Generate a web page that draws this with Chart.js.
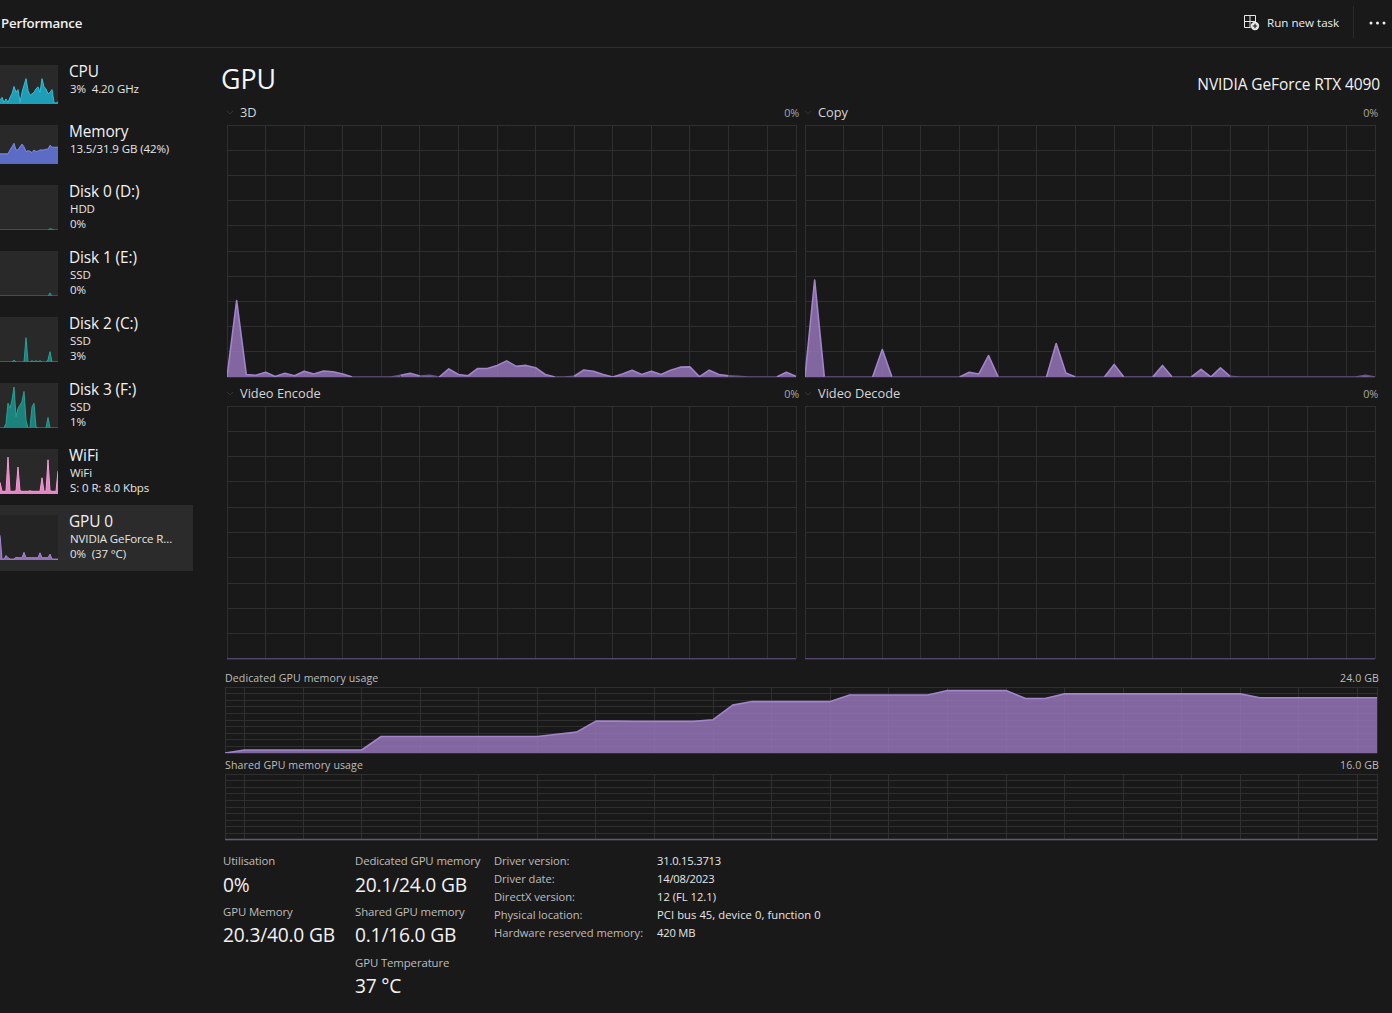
<!DOCTYPE html>
<html><head><meta charset="utf-8">
<script src="https://cdn.jsdelivr.net/npm/chart.js@4"></script>
<style>
html,body{margin:0;padding:0;background:#191919;width:1392px;height:1013px;overflow:hidden}
body{position:relative;font-family:"Open Sans","Noto Sans",sans-serif;color:#fff}
.t{position:absolute;white-space:nowrap;transform:translateY(-50%);line-height:1.2}
.r{transform:translate(-100%,-50%)}
.h{font-size:15.4px;color:#f2f2f2;letter-spacing:-.1px}
.s{font-size:11.5px;color:#e6e6e6;letter-spacing:-.1px}
.l{font-size:11.4px;color:#bdbdbd;letter-spacing:-.12px}
.v{font-size:19.2px;color:#f2f2f2;letter-spacing:-.2px}
.d{font-size:11.2px;color:#bdbdbd;letter-spacing:-.04px}
.e{font-size:11.2px;color:#e6e6e6;letter-spacing:-.2px}
.g{font-size:12.8px;color:#d6d6d6}
.p{font-size:10.8px;color:#a8a8a8;letter-spacing:-.2px}
.m{font-size:10.6px;color:#bdbdbd;letter-spacing:.1px}
canvas{position:absolute;display:block}
.box{position:absolute}
</style></head><body>
<div class="box" style="left:0;top:47px;width:1392px;height:1px;background:#2e2e2e"></div>
<div class="box" style="left:1353px;top:6px;width:1px;height:32px;background:#2a2a2a"></div>
<div class="box" style="left:0;top:505px;width:193px;height:66px;background:#2b2b2b"></div>

<div class="t" style="left:1px;top:23.5px;font-size:13.3px;font-weight:600;color:#f0f0f0;letter-spacing:-.2px">Performance</div>
<svg class="box" style="left:1243px;top:15px" width="17" height="16" viewBox="0 0 17 16" fill="none" stroke="#e8e8e8" stroke-width="1">
<path d="M1.5 .5h11v6.5M1.5 .5v12h6M1.5 6.5h11M7 .5v12"/><circle cx="12" cy="11" r="4.2" fill="#e8e8e8" stroke="none"/><path d="M12 8.8v4.4M9.8 11h4.4" stroke="#191919" stroke-width="1.1"/></svg>
<div class="t" style="left:1267px;top:23px;font-size:11.6px;font-weight:500;color:#ececec">Run new task</div>
<svg class="box" style="left:1369px;top:20px" width="18" height="6"><circle cx="2" cy="3" r="1.5" fill="#eee"/><circle cx="8.5" cy="3" r="1.5" fill="#eee"/><circle cx="15" cy="3" r="1.5" fill="#eee"/></svg>

<div class="t" style="left:221px;top:78.5px;font-size:26.8px;color:#f5f5f5">GPU</div>
<div class="t r" style="left:1380px;top:83.5px;font-size:15.5px;color:#f2f2f2;letter-spacing:-.1px">NVIDIA GeForce RTX 4090</div>

<div class="t h" style="left:69px;top:72px">CPU</div><div class="t s" style="left:70px;top:89px">3%&nbsp; 4.20 GHz</div>
<div class="t h" style="left:69px;top:132px">Memory</div><div class="t s" style="left:70px;top:149px">13.5/31.9 GB (42%)</div>
<div class="t h" style="left:69px;top:192px">Disk 0 (D:)</div><div class="t s" style="left:70px;top:209px">HDD</div><div class="t s" style="left:70px;top:224px">0%</div>
<div class="t h" style="left:69px;top:258px">Disk 1 (E:)</div><div class="t s" style="left:70px;top:275px">SSD</div><div class="t s" style="left:70px;top:290px">0%</div>
<div class="t h" style="left:69px;top:324px">Disk 2 (C:)</div><div class="t s" style="left:70px;top:341px">SSD</div><div class="t s" style="left:70px;top:356px">3%</div>
<div class="t h" style="left:69px;top:390px">Disk 3 (F:)</div><div class="t s" style="left:70px;top:407px">SSD</div><div class="t s" style="left:70px;top:422px">1%</div>
<div class="t h" style="left:69px;top:456px">WiFi</div><div class="t s" style="left:70px;top:473px">WiFi</div><div class="t s" style="left:70px;top:488px">S: 0 R: 8.0 Kbps</div>
<div class="t h" style="left:69px;top:522px">GPU 0</div><div class="t s" style="left:70px;top:539px">NVIDIA GeForce R...</div><div class="t s" style="left:70px;top:554px">0%&nbsp; (37 °C)</div>

<svg class="box" style="left:226px;top:110px" width="8" height="5"><path d="M1 1l3 3 3-3" stroke="#333" fill="none"/></svg>
<svg class="box" style="left:804px;top:110px" width="8" height="5"><path d="M1 1l3 3 3-3" stroke="#333" fill="none"/></svg>
<svg class="box" style="left:226px;top:391px" width="8" height="5"><path d="M1 1l3 3 3-3" stroke="#333" fill="none"/></svg>
<svg class="box" style="left:804px;top:391px" width="8" height="5"><path d="M1 1l3 3 3-3" stroke="#333" fill="none"/></svg>
<div class="t g" style="left:240px;top:113px">3D</div><div class="t r p" style="left:799px;top:113px">0%</div>
<div class="t g" style="left:818px;top:113px">Copy</div><div class="t r p" style="left:1378px;top:113px">0%</div>
<div class="t g" style="left:240px;top:394px">Video Encode</div><div class="t r p" style="left:799px;top:394px">0%</div>
<div class="t g" style="left:818px;top:394px">Video Decode</div><div class="t r p" style="left:1378px;top:394px">0%</div>
<div class="t m" style="left:225px;top:678px">Dedicated GPU memory usage</div><div class="t r m" style="left:1379px;top:678px">24.0 GB</div>
<div class="t m" style="left:225px;top:765px">Shared GPU memory usage</div><div class="t r m" style="left:1379px;top:765px">16.0 GB</div>

<div class="t l" style="left:223px;top:861px">Utilisation</div><div class="t v" style="left:223px;top:885px">0%</div>
<div class="t l" style="left:223px;top:912px">GPU Memory</div><div class="t v" style="left:223px;top:935px">20.3/40.0 GB</div>
<div class="t l" style="left:355px;top:861px">Dedicated GPU memory</div><div class="t v" style="left:355px;top:885px">20.1/24.0 GB</div>
<div class="t l" style="left:355px;top:912px">Shared GPU memory</div><div class="t v" style="left:355px;top:935px">0.1/16.0 GB</div>
<div class="t l" style="left:355px;top:963px">GPU Temperature</div><div class="t v" style="left:355px;top:986px">37 °C</div>
<div class="t d" style="left:494px;top:861px">Driver version:</div><div class="t e" style="left:657px;top:861px">31.0.15.3713</div>
<div class="t d" style="left:494px;top:879px">Driver date:</div><div class="t e" style="left:657px;top:879px">14/08/2023</div>
<div class="t d" style="left:494px;top:897px">DirectX version:</div><div class="t e" style="left:657px;top:897px;letter-spacing:0">12 (FL 12.1)</div>
<div class="t d" style="left:494px;top:915px">Physical location:</div><div class="t e" style="left:657px;top:915px;letter-spacing:.08px">PCI bus 45, device 0, function 0</div>
<div class="t d" style="left:494px;top:933px">Hardware reserved memory:</div><div class="t e" style="left:657px;top:933px">420 MB</div>

<script>
// Engine charts: percent utilisation, one sample per index (60 samples)
const engine3D = [0,30.3,1,.7,1.9,.2,1.5,.5,2.3,1.2,2.4,2.1,1.2,0,0,0,0,0,.7,1.5,.4,.7,0,3.2,1,.5,3.4,3.4,4.6,6.4,4.2,4.6,3.7,1,0,0,.3,2.8,2.3,1,0,1.2,2.7,1,2.3,1,2.7,3.9,4,.1,2.7,1,.5,.3,0,0,0,0,1.9,.3];
const engineCopy = [0,38.5,0,0,0,0,0,0,10.9,0,0,0,0,0,0,0,0,1.9,1.2,8.5,0,0,0,0,0,0,13.3,1.6,0,0,0,0,5,0,0,0,0,4.6,0,0,0,3,0,3.6,.3,0,0,0,0,0,0,0,0,0,0,0,0,0,.7,0];
const engineEncode = [0,0,0,0,0,0,0,0,0,0,0,0,0,0,0,0,0,0,0,0,0,0,0,0,0,0,0,0,0,0,0,0,0,0,0,0,0,0,0,0,0,0,0,0,0,0,0,0,0,0,0,0,0,0,0,0,0,0,0,0];
const engineDecode = [0,0,0,0,0,0,0,0,0,0,0,0,0,0,0,0,0,0,0,0,0,0,0,0,0,0,0,0,0,0,0,0,0,0,0,0,0,0,0,0,0,0,0,0,0,0,0,0,0,0,0,0,0,0,0,0,0,0,0,0];
// Memory charts: GB
const dedicatedGB = [0,1.1,1.1,1.1,1.1,1.1,1.1,1.1,6,6,6,6,6,6,6,6,6,6.8,7.6,11.6,11.6,11.5,11.5,11.5,11.5,12.1,17.4,18.7,18.7,18.7,18.7,18.7,21.1,21.1,21.1,21.1,21.1,22.7,22.7,22.7,22.7,19.8,19.8,21.5,21.5,21.5,21.5,21.5,21.5,21.5,21.5,21.5,21.5,20.1,20.1,20.1,20.1,20.1,20.1,20.1];
const sharedGB = [.1,.1,.1,.1,.1,.1,.1,.1,.1,.1,.1,.1,.1,.1,.1,.1,.1,.1,.1,.1,.1,.1,.1,.1,.1,.1,.1,.1,.1,.1,.1,.1,.1,.1,.1,.1,.1,.1,.1,.1,.1,.1,.1,.1,.1,.1,.1,.1,.1,.1,.1,.1,.1,.1,.1,.1,.1,.1,.1,.1];
const dedicatedMax = 24, sharedMax = 16, percentMax = 100;
// Vertical grid positions (sample index)
const engineGridX = [0,4,8,12,16,20,24,28,32,36,40,44,48,52,56,59];
const memoryGridX = [0,1,4,7,10,13,16,19,22,25,28,31,34,37,40,43,46,49,52,55,58,59];
// Sidebar sparklines: percent, 30 samples
const sparkCPU = [9,17,4,13,4,17,26,45,30,37,4,30,48,65,35,22,26,30,39,44,30,65,44,39,26,30,37,4,2,6];
const sparkMemory = [26,26,26,26,26,36,44,53,36,36,44,51,44,32,34,33,29,36,32,33,36,36,36,38,38,48,43,43,43,43];
const sparkDisk0 = [0,0,0,0,0,0,0,0,0,0,0,0,0,0,0,0,0,0,0,0,0,0,0,0,0,3,2,0,0,0];
const sparkDisk1 = [0,0,0,0,0,0,0,0,0,0,0,0,0,0,0,0,0,0,0,0,0,0,0,0,0,7,0,0,0,0];
const sparkDisk2 = [0,0,0,0,0,0,0,4,0,0,0,0,0,54,0,0,3,0,3,0,3,0,0,0,5,23,0,0,0,0];
const sparkDisk3 = [0,0,0,10,55,44,62,91,25,44,51,59,81,17,0,0,47,55,2,0,0,0,0,0,23,0,0,0,0,0];
const sparkWiFi = [26,6,6,6,82,6,6,6,7,60,7,6,6,6,6,7,6,6,6,6,6,36,6,6,76,7,6,6,6,51];
const sparkGPU = [55,2,2,10,5,2,2,2,6,5,5,5,17,5,5,5,5,5,5,5,16,5,5,5,5,13,2,2,2,2];

function addCanvas(left, top, w, h, bg){
  const c = document.createElement('canvas');
  c.width = w; c.height = h;
  c.style.left = left + 'px'; c.style.top = top + 'px';
  c.style.width = w + 'px'; c.style.height = h + 'px';
  if (bg) c.style.background = bg;
  document.body.appendChild(c);
  return c;
}
function setTicks(list){ return s => { s.ticks = list.map(v => ({value:v})); }; }

function gridPlot(values, yMax, gridX, left, top, w, h){
  const c = addCanvas(left-1, top-1, w+2, h+2);
  const yList = Array.from({length:11}, (_,i) => i*yMax/10);
  const flat = yMax*0.007;
  new Chart(c, {
    type:'line',
    data:{datasets:[{data:values.map((v,i)=>({x:i,y:v})),
      borderColor:'#a284cb', borderWidth:1.6, borderJoinStyle:'round', backgroundColor:'rgba(153,120,190,.82)',
      segment:{borderColor:ctx => (ctx.p0.parsed.y<flat && ctx.p1.parsed.y<flat) ? '#6a5486' : undefined},
      fill:'origin', pointRadius:0, tension:0}]},
    options:{responsive:false, animation:false, events:[],
      layout:{padding:1},
      plugins:{legend:{display:false},tooltip:{enabled:false}},
      scales:{
        x:{type:'linear',min:0,max:values.length-1,afterBuildTicks:setTicks(gridX),
           border:{display:false},grid:{color:'#2f2f2f',drawTicks:false},ticks:{display:false,autoSkip:false}},
        y:{type:'linear',min:0,max:yMax,afterBuildTicks:setTicks(yList),
           border:{display:false},grid:{color:'#2f2f2f',drawTicks:false},ticks:{display:false,autoSkip:false}}
      }}
  });
}
function spark(values, line, fill, top, h, bg){
  const c = addCanvas(0, top, 58, h, bg);
  new Chart(c, {
    type:'line',
    data:{datasets:[{data:values.map((v,i)=>({x:i,y:v})),
      borderColor:line, borderWidth:1, backgroundColor:fill, fill:'origin', pointRadius:0, tension:0}]},
    options:{responsive:false, animation:false, events:[],
      plugins:{legend:{display:false},tooltip:{enabled:false}},
      scales:{
        x:{type:'linear',display:false,min:0,max:values.length-1},
        y:{type:'linear',display:false,min:0,max:100}
      }}
  });
}
gridPlot(engine3D, percentMax, engineGridX, 227, 125, 569, 252);
gridPlot(engineCopy, percentMax, engineGridX, 805, 125, 570, 252);
gridPlot(engineEncode, percentMax, engineGridX, 227, 406, 569, 253);
gridPlot(engineDecode, percentMax, engineGridX, 805, 406, 570, 253);
gridPlot(dedicatedGB, dedicatedMax, memoryGridX, 225, 687, 1152, 66);
gridPlot(sharedGB, sharedMax, memoryGridX, 225, 774, 1152, 66);

spark(sparkCPU, '#2cc0da', '#1f9db6', 65, 39, '#292929');
spark(sparkMemory, '#7a8cf0', '#5c6cc4', 125, 39, '#292929');
spark(sparkDisk0, '#1f8f85', '#1b8078', 185, 45, '#292929');
spark(sparkDisk1, '#1f8f85', '#1b8078', 251, 45, '#292929');
spark(sparkDisk2, '#22a498', '#1b837c', 317, 45, '#292929');
spark(sparkDisk3, '#22a498', '#1b837c', 383, 45, '#292929');
spark(sparkWiFi, '#f59ad6', '#e584c4', 449, 45, '#292929');
spark(sparkGPU, '#a884d4', '#8f70b5', 515, 45, '#242424');
</script>
</body></html>
